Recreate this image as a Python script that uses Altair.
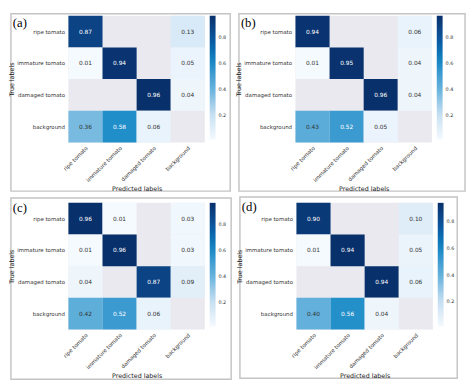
import altair as alt
import pandas as pd

classes = ["ripe tomato", "immature tomato", "damaged tomato", "background"]
panel_names = ["(a)", "(b)", "(c)", "(d)"]

# rows = true label, columns = predicted label (None = empty cell)
mat_a = [[0.87, None, None, 0.13],
         [0.01, 0.94, None, 0.05],
         [None, None, 0.96, 0.04],
         [0.36, 0.58, 0.06, None]]
mat_b = [[0.94, None, None, 0.06],
         [0.01, 0.95, None, 0.04],
         [None, None, 0.96, 0.04],
         [0.43, 0.52, 0.05, None]]
mat_c = [[0.96, 0.01, None, 0.03],
         [0.01, 0.96, None, 0.03],
         [0.04, None, 0.87, 0.09],
         [0.42, 0.52, 0.06, None]]
mat_d = [[0.90, None, None, 0.10],
         [0.01, 0.94, None, 0.05],
         [None, None, 0.94, 0.06],
         [0.40, 0.56, 0.04, None]]
mats = [mat_a, mat_b, mat_c, mat_d]

# frame of each sub-picture, relative to its heatmap (left, right, top, bottom)
frames = [(-59, 166, -2, 180),
          (-58, 174, -2, 180),
          (-59, 167, -5, 181),
          (-58, 165, -6, 180)]

cmap = ["#f5fafe", "#c6e0f2", "#68b4dd", "#1f8ec9", "#0b5aa2", "#08306b"]

FONT = "DejaVu Sans"
W, H = 140, 130


def panel(name, mat, fr):
    rows = []
    for i, t in enumerate(classes):
        for j, p in enumerate(classes):
            rows.append({"true": t, "pred": p, "v": mat[i][j]})
    df = pd.DataFrame(rows)
    vals = [v for r in mat for v in r if v is not None]
    vmin, vmax = min(vals), max(vals)
    n = len(cmap) - 1
    dom = [vmin + k * (vmax - vmin) / n for k in range(n + 1)]

    base = alt.Chart(df).transform_filter("isValid(datum.v)")
    x = alt.X("pred:N", sort=classes, title="Predicted labels",
              axis=alt.Axis(labelAngle=-45, ticks=False, domain=False,
                            labelFontSize=5.6, labelFont=FONT, labelColor="#333333",
                            labelPadding=3, titleFont=FONT, titleFontSize=6.5,
                            titleFontWeight="normal", titleColor="#222222",
                            titlePadding=3))
    y = alt.Y("true:N", sort=classes, title="True labels",
              axis=alt.Axis(ticks=False, domain=False, labelFontSize=5.6,
                            labelFont=FONT, labelColor="#333333", labelPadding=4,
                            titleFont=FONT, titleFontSize=6.5,
                            titleFontWeight="normal", titleColor="#222222",
                            titlePadding=2))
    rect = base.mark_rect().encode(
        x=x, y=y,
        color=alt.Color("v:Q", title=None,
                        scale=alt.Scale(domain=dom, range=cmap),
                        legend=alt.Legend(values=[0.2, 0.4, 0.6, 0.8],
                                          gradientLength=H - 3,
                                          gradientThickness=6,
                                          gradientStrokeWidth=0,
                                          labelFontSize=5, labelFont=FONT,
                                          labelColor="#333333",
                                          offset=5, padding=0,
                                          labelOffset=3, format=".1f")))
    text = base.mark_text(fontSize=6, font=FONT).encode(
        x=alt.X("pred:N", sort=classes),
        y=alt.Y("true:N", sort=classes),
        text=alt.Text("v:Q", format=".2f"),
        color=alt.condition("datum.v > 0.5", alt.value("white"), alt.value("#333333")))
    deco = alt.Chart(pd.DataFrame({"label": [name]}))
    frame = deco.mark_rect(fillOpacity=0, stroke="#c4c4c4", strokeWidth=1.5).encode(
        x=alt.value(fr[0]), x2=alt.value(fr[1]), y=alt.value(fr[2]), y2=alt.value(fr[3]))
    lab = deco.mark_text(font="Liberation Serif", fontSize=13, align="left",
                         baseline="middle", color="black").encode(
        x=alt.value(fr[0] + 2), y=alt.value(fr[2] + 10), text="label:N")
    return alt.layer(rect, text, frame, lab).properties(width=W, height=H)


pa, pb, pc, pd_ = [panel(n, m, f) for n, m, f in zip(panel_names, mats, frames)]
top = alt.hconcat(pa, pb, spacing=4).resolve_scale(color="independent")
bot = alt.hconcat(pc, pd_, spacing=4).resolve_scale(color="independent")
chart = alt.vconcat(top, bot, spacing=3).resolve_scale(color="independent").properties(
    padding=0
).configure_view(fill="#e9e9ef", strokeWidth=0)

chart.save("out.html", embed_options={"renderer": "svg", "actions": False})
